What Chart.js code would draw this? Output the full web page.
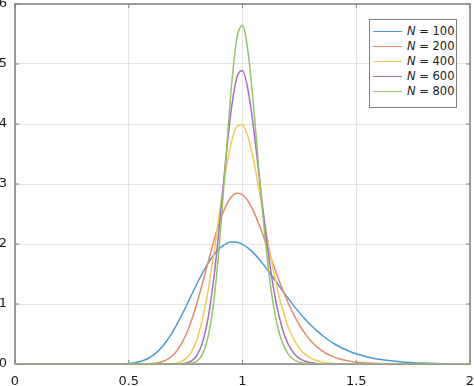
<!DOCTYPE html>
<html>
<head>
<meta charset="utf-8">
<script src="https://cdn.jsdelivr.net/npm/chart.js@4.4.1/dist/chart.umd.min.js"></script>
<style>
  html, body { margin: 0; padding: 0; background: #fff; }
  #wrap { position: relative; width: 474px; height: 386px; overflow: hidden; }
  #legend {
    position: absolute; left: 369px; top: 19px; width: 86px; height: 83px;
    border: 1px solid #808080; background: #fff; padding-top: 4px; box-sizing: content-box;
    font-family: "DejaVu Sans", sans-serif; font-size: 11.5px; color: #1a1a1a;
  }
  #legend .row { height: 15px; line-height: 15px; display: flex; align-items: center; white-space: nowrap; }
  #legend .swatch { width: 29px; height: 1px; margin-left: 3px; margin-right: 5px; }
</style>
</head>
<body>
<div id="wrap">
  <canvas id="chart" width="474" height="386"></canvas>
  <div id="legend"></div>
</div>
<script>
// x positions shared by all curves
const xValues = [0, 0.45, 0.5, 0.525, 0.55, 0.575, 0.6, 0.625, 0.65, 0.675, 0.7, 0.725, 0.75, 0.775,
  0.8, 0.825, 0.85, 0.875, 0.9, 0.925, 0.95, 0.975, 1.0, 1.025, 1.05, 1.075, 1.1, 1.125, 1.15, 1.175,
  1.2, 1.225, 1.25, 1.275, 1.3, 1.325, 1.35, 1.375, 1.4, 1.425, 1.45, 1.475, 1.5, 1.55, 1.6, 1.65,
  1.7, 1.75, 1.8, 1.85, 1.9, 1.95, 2.0];

const n100 = [0, 0.0015, 0.0098, 0.0212, 0.0416, 0.0755, 0.1274, 0.2018, 0.3017, 0.4285, 0.5810, 0.7553,
  0.9453, 1.1426, 1.3381, 1.5224, 1.6868, 1.8242, 1.9292, 1.9987, 2.0318, 2.0295, 1.9947, 1.9313, 1.8440,
  1.7381, 1.6187, 1.4908, 1.3587, 1.2264, 1.0971, 0.9731, 0.8564, 0.7481, 0.6490, 0.5595, 0.4793, 0.4083,
  0.3460, 0.2918, 0.2449, 0.2047, 0.1703, 0.1167, 0.0788, 0.0526, 0.0348, 0.0227, 0.0148, 0.0095, 0.0061,
  0.0039, 0.0025];

const n200 = [0, 0, 0.0001, 0.0002, 0.0007, 0.0023, 0.0069, 0.0180, 0.0419, 0.0879, 0.1675, 0.2933,
  0.4751, 0.7173, 1.0155, 1.3556, 1.7148, 2.0644, 2.3748, 2.6198, 2.7804, 2.8473, 2.8210, 2.7105, 2.5314,
  2.3025, 2.0435, 1.7727, 1.5053, 1.2531, 1.0240, 0.8224, 0.6499, 0.5059, 0.3882, 0.2940, 0.2199, 0.1626,
  0.1189, 0.0860, 0.0617, 0.0438, 0.0309, 0.0150, 0.0070, 0.0032, 0.0015, 0.0006, 0.0003, 0.0001, 0,
  0, 0];

const n400 = [0, 0, 0, 0, 0, 0, 0, 0.0001, 0.0006, 0.0026, 0.0099, 0.0313, 0.0849, 0.1999, 0.4136,
  0.7601, 1.2531, 1.8694, 2.5445, 3.1827, 3.6817, 3.9627, 3.9894, 3.7752, 3.3732, 2.8572, 2.3029, 1.7722,
  1.3063, 0.9250, 0.6308, 0.4154, 0.2647, 0.1636, 0.0982, 0.0574, 0.0327, 0.0182, 0.0099, 0.0053, 0.0028,
  0.0014, 0.0007, 0.0002, 0, 0, 0, 0, 0, 0, 0, 0, 0];

const n600 = [0, 0, 0, 0, 0, 0, 0, 0, 0, 0.0001, 0.0005, 0.0029, 0.0131, 0.0482, 0.1459, 0.3691, 0.7929,
  1.4661, 2.3612, 3.3484, 4.2222, 4.7761, 4.8860, 4.5537, 3.8926, 3.0704, 2.2474, 1.5344, 0.9818, 0.5913,
  0.3366, 0.1817, 0.0934, 0.0458, 0.0215, 0.0097, 0.0042, 0.0018, 0.0007, 0.0003, 0, 0, 0, 0, 0, 0, 0,
  0, 0, 0, 0, 0, 0];

const n800 = [0, 0, 0, 0, 0, 0, 0, 0, 0, 0, 0, 0.0003, 0.0019, 0.0110, 0.0485, 0.1690, 0.4731, 1.0840,
  2.0658, 3.3214, 4.5650, 5.4273, 5.6419, 5.1786, 4.2350, 3.1109, 2.0679, 1.2525, 0.6957, 0.3564, 0.1693,
  0.0749, 0.0311, 0.0121, 0.0045, 0.0016, 0.0005, 0.0002, 0, 0, 0, 0, 0, 0, 0, 0, 0, 0, 0, 0, 0, 0, 0];

const seriesNames = ['100', '200', '400', '600', '800'];
const seriesValues = [n100, n200, n400, n600, n800];
const seriesColors = ['#4a9bd6', '#e58a6a', '#f3cb55', '#a56cc0', '#97c36a'];

const xTicks = [0, 0.5, 1, 1.5, 2];
const yTicks = [0, 1, 2, 3, 4, 5, 6];

const axisColor = '#808080';
const tickFont = { family: 'DejaVu Sans', size: 13 };

// box round the plot plus short inward tick marks, like MATLAB axes
const boxPlugin = {
  id: 'box',
  beforeDatasetsDraw(chart) {
    const { ctx, chartArea: a, scales } = chart;
    ctx.save();
    ctx.strokeStyle = axisColor;
    ctx.lineWidth = 1.5;
    ctx.strokeRect(a.left, a.top, a.right - a.left, a.bottom - a.top);
    ctx.lineWidth = 1;
    ctx.beginPath();
    xTicks.forEach(v => {
      const px = scales.x.getPixelForValue(v);
      ctx.moveTo(px, a.bottom); ctx.lineTo(px, a.bottom - 4);
      ctx.moveTo(px, a.top); ctx.lineTo(px, a.top + 4);
    });
    yTicks.forEach(v => {
      const py = scales.y.getPixelForValue(v);
      ctx.moveTo(a.left, py); ctx.lineTo(a.left + 4, py);
      ctx.moveTo(a.right, py); ctx.lineTo(a.right - 4, py);
    });
    ctx.stroke();
    ctx.restore();
  }
};

const datasets = seriesValues.map((vals, i) => ({
  label: 'N = ' + seriesNames[i],
  data: xValues.map((x, j) => ({ x: x, y: vals[j] })),
  borderColor: seriesColors[i],
  borderWidth: 1.5,
  pointRadius: 0,
  fill: false,
  cubicInterpolationMode: 'monotone',
  order: seriesValues.length - i
}));

const chart = new Chart(document.getElementById('chart'), {
  type: 'line',
  data: { datasets: datasets },
  options: {
    responsive: false,
    animation: false,
    layout: { padding: { top: 4, right: 4, left: 0, bottom: 0 } },
    plugins: { legend: { display: false }, tooltip: { enabled: false } },
    scales: {
      x: {
        type: 'linear', min: 0, max: 2,
        afterBuildTicks: s => { s.ticks = xTicks.map(v => ({ value: v })); },
        afterFit: s => { s.height = 22; s.paddingLeft = 0; s.paddingRight = 0; },
        grid: { color: '#e4e4e4', drawTicks: false },
        border: { display: false },
        ticks: {
          color: '#1a1a1a', font: tickFont, padding: 10, maxRotation: 0, autoSkip: false,
          callback: v => String(v)
        }
      },
      y: {
        min: 0, max: 6,
        afterBuildTicks: s => { s.ticks = yTicks.map(v => ({ value: v })); },
        afterFit: s => { s.width = 15; s.paddingTop = 0; s.paddingBottom = 0; },
        grid: { color: '#e4e4e4', drawTicks: false },
        border: { display: false },
        ticks: { color: '#1a1a1a', font: tickFont, padding: 8, callback: v => String(v) }
      }
    }
  },
  plugins: [boxPlugin]
});

// legend drawn as html so the N can be italic
const legendEl = document.getElementById('legend');
chart.data.datasets.forEach((ds, i) => {
  const row = document.createElement('div');
  row.className = 'row';
  row.innerHTML = `<span class="swatch" style="background:${ds.borderColor}"></span><span><i>N</i> = ${seriesNames[i]}</span>`;
  legendEl.appendChild(row);
});
</script>
</body>
</html>
